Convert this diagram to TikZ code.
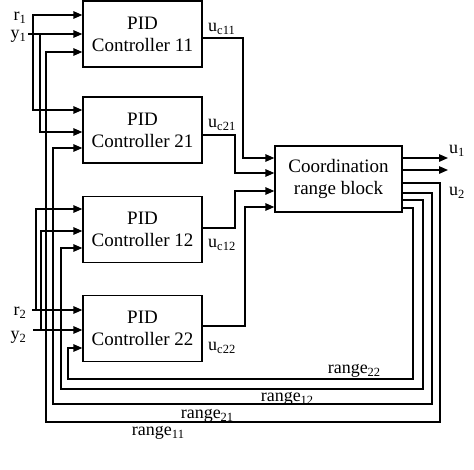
\documentclass[tikz,border=0pt]{standalone}
\usepackage{fontspec}
\setmainfont{Liberation Serif}
\usetikzlibrary{arrows.meta}
\newcommand{\sbs}[1]{\raisebox{-0.22em}{\fontsize{12.5}{12.5}\selectfont #1}}
\tikzset{
  blk/.style={draw, line width=1.3pt, minimum width=119pt, minimum height=66pt, align=center, font=\fontsize{19}{22}\selectfont, inner sep=0pt},
  wire/.style={line width=1.3pt},
  arr/.style={wire, -{Triangle[length=9pt,width=7.5pt]}},
  lbl/.style={font=\fontsize{18}{18}\selectfont, inner sep=0pt},
}
\begin{document}
\begin{tikzpicture}[x=1pt,y=-1pt]
\useasboundingbox[fill=white] (0,0) rectangle (474,469);
% blocks
\node[blk] (b11) at (142.5,34) {PID\\Controller 11};
\node[blk] (b21) at (142.5,130) {PID\\Controller 21};
\node[blk] (b12) at (142.5,229.5) {PID\\Controller 12};
\node[blk] (b22) at (142.5,328.5) {PID\\Controller 22};
\node[blk, minimum width=127pt] (cb) at (338.5,179) {Coordination\\range block};
% input labels
\node[lbl, anchor=base east] (r1) at (26,20) {r\sbs{1}};
\node[lbl, anchor=base east] (y1) at (26,38) {y\sbs{1}};
\node[lbl, anchor=base east] (r2) at (26,315) {r\sbs{2}};
\node[lbl, anchor=base east] (y2) at (26,339) {y\sbs{2}};
% input wires
\coordinate (r1s) at (32,15);
\coordinate (y1s) at (28,34);
\coordinate (r2s) at (32,310);
\coordinate (y2s) at (33,330);
\draw[arr] (r1s) -- (r1s -| b11.west);
\draw[arr] (y1s) -- (y1s -| b11.west);
\coordinate (r1b) at (33,15);
\coordinate (y1b) at (40,34);
\draw[arr] (r1b) |- (b21.west |- 0,110);
\draw[arr] (y1b) |- (b21.west |- 0,132);
\draw[arr] (r2s) -- (r2s -| b22.west);
\draw[arr] (y2s) -- (y2s -| b22.west);
\coordinate (r2b) at (36,310);
\coordinate (y2b) at (41,330);
\draw[arr] (r2b) |- (b12.west |- 0,209);
\draw[arr] (y2b) |- (b12.west |- 0,231);
% controller outputs
\draw[arr] (b11.east |- 0,38) -| (243,158) -- (cb.west |- 0,158);
\draw[arr] (b21.east |- 0,135) -| (235,173) -- (cb.west |- 0,173);
\draw[arr] (b12.east |- 0,228) -| (235,191) -- (cb.west |- 0,191);
\draw[arr] (b22.east |- 0,326) -| (245,207) -- (cb.west |- 0,207);
\node[lbl, anchor=base west] (uc11) at (208,31) {u\sbs{c11}};
\node[lbl, anchor=base west] (uc21) at (208,127) {u\sbs{c21}};
\node[lbl, anchor=base west] (uc12) at (208,247) {u\sbs{c12}};
\node[lbl, anchor=base west] (uc22) at (208,350) {u\sbs{c22}};
% block outputs
\coordinate (u1e) at (448,158);
\coordinate (u2e) at (448,170);
\draw[arr] (cb.east |- u1e) -- (u1e);
\draw[arr] (cb.east |- u2e) -- (u2e);
\node[lbl, anchor=base west] (u1) at (449,153) {u\sbs{1}};
\node[lbl, anchor=base west] (u2) at (449,195) {u\sbs{2}};
% range feedback
\coordinate (f11) at (440,422);
\coordinate (f21) at (432,404);
\coordinate (f12) at (423,389);
\coordinate (f22) at (413,379);
\coordinate (g11) at (46,52);
\coordinate (g21) at (53,148);
\coordinate (g12) at (61,248);
\coordinate (g22) at (68,348);
\draw[arr] (cb.east |- 0,183) -| (f11) -| (g11) -- (g11 -| b11.west);
\draw[arr] (cb.east |- 0,193) -| (f21) -| (g21) -- (g21 -| b21.west);
\draw[arr] (cb.east |- 0,200) -| (f12) -| (g12) -- (g12 -| b12.west);
\draw[arr] (cb.east |- 0,208) -| (f22) -| (g22) -- (g22 -| b22.west);
\node[lbl, anchor=base] (rg22) at (354,373) {range\sbs{22}};
\node[lbl, anchor=base] (rg12) at (287,401) {range\sbs{12}};
\node[lbl, anchor=base] (rg21) at (207,418) {range\sbs{21}};
\node[lbl, anchor=base] (rg11) at (158,435) {range\sbs{11}};
\end{tikzpicture}
\end{document}
